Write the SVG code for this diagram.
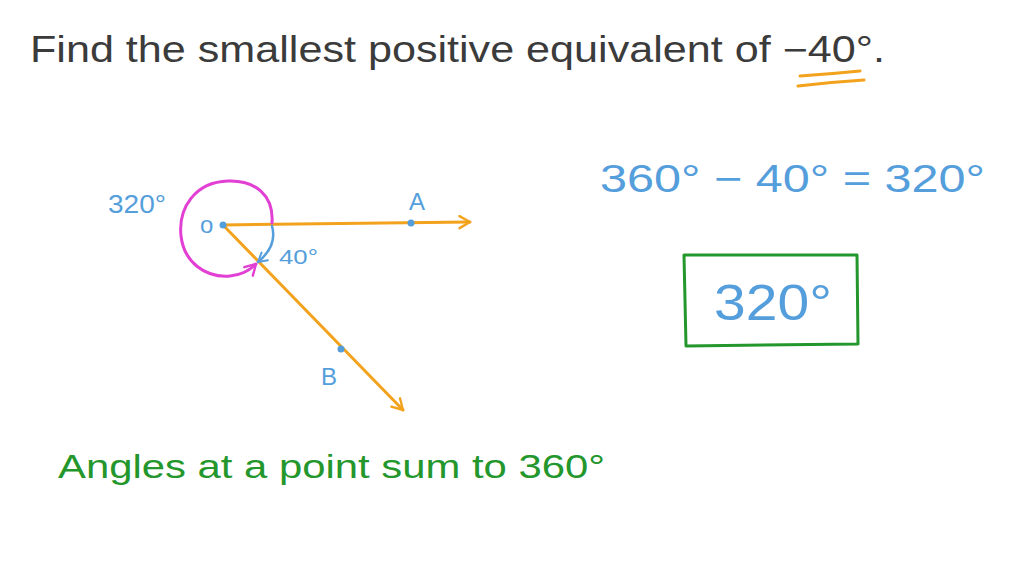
<svg xmlns="http://www.w3.org/2000/svg" width="1024" height="576" viewBox="0 0 1024 576">
<defs>
<style>
.t{font-family:"Liberation Sans","DejaVu Sans",sans-serif;}
.dark{fill:#3b3b3b;}
.blue{fill:#559edc;}
.green{fill:#23962c;}
.ray{stroke:#f2a21c;stroke-width:3;fill:none;stroke-linecap:round;}
.dot{fill:#559edc;}
</style>
<marker id="arrO" viewBox="0 0 10 10" refX="8" refY="5" markerWidth="5" markerHeight="5" orient="auto" markerUnits="strokeWidth">
<path d="M1,1 L8,5 L1,9" fill="none" stroke="#f2a21c" stroke-width="1.6" stroke-linecap="round" stroke-linejoin="round"/>
</marker>
<marker id="arrM" viewBox="0 0 10 10" refX="8" refY="5" markerWidth="5" markerHeight="5" orient="auto" markerUnits="strokeWidth">
<path d="M1,1 L8,5 L1,9" fill="none" stroke="#e23fd4" stroke-width="1.6" stroke-linecap="round" stroke-linejoin="round"/>
</marker>
<marker id="arrB" viewBox="0 0 10 10" refX="8" refY="5" markerWidth="5" markerHeight="5" orient="auto" markerUnits="strokeWidth">
<path d="M1,1 L8,5 L1,9" fill="none" stroke="#559edc" stroke-width="1.6" stroke-linecap="round" stroke-linejoin="round"/>
</marker>
</defs>
<rect width="1024" height="576" fill="#ffffff"/>

<g id="title">
<text class="t dark" x="30" y="62" font-size="36" textLength="855" lengthAdjust="spacingAndGlyphs">Find the smallest positive equivalent of −40°.</text>
<path d="M800,76 Q830,74 860,71 M798,86 Q832,82 864,80" stroke="#f2a21c" stroke-width="3" fill="none" stroke-linecap="round"/>
</g>

<g id="connectors">
<line class="ray" x1="223" y1="225" x2="470" y2="222" marker-end="url(#arrO)"/>
<line class="ray" x1="223" y1="225" x2="403" y2="410" marker-end="url(#arrO)"/>
<path d="M272,223 C274,195 255,180 228,181 C195,182 178,208 181,236 C184,262 205,278 230,276 C242,275 250,270 256,264" stroke="#e23fd4" stroke-width="3" fill="none" stroke-linecap="round" marker-end="url(#arrM)"/>
<path d="M272,226 C276,240 270,252 258,262" stroke="#559edc" stroke-width="2.5" fill="none" stroke-linecap="round" marker-end="url(#arrB)"/>
</g>

<g id="node-O">
<circle class="dot" cx="223" cy="225" r="3.5"/>
<text class="t blue" x="200" y="233" font-size="24">o</text>
</g>
<g id="node-A">
<circle class="dot" cx="411" cy="223" r="3.5"/>
<text class="t blue" x="409" y="210" font-size="24">A</text>
</g>
<g id="node-B">
<circle class="dot" cx="341" cy="349" r="3.5"/>
<text class="t blue" x="321" y="385" font-size="24">B</text>
</g>

<g id="label-320">
<text class="t blue" x="108" y="213" font-size="26" textLength="58" lengthAdjust="spacingAndGlyphs">320°</text>
</g>
<g id="label-40">
<text class="t blue" x="279" y="264" font-size="21" textLength="39" lengthAdjust="spacingAndGlyphs">40°</text>
</g>

<g id="equation">
<text class="t blue" x="600" y="192" font-size="38" textLength="385" lengthAdjust="spacingAndGlyphs">360° − 40° = 320°</text>
</g>

<g id="answer">
<path d="M684,255 L857,255 L858,344 L686,346 Z" fill="none" stroke="#23962c" stroke-width="3" stroke-linejoin="round"/>
<text class="t blue" x="714" y="320" font-size="50" textLength="118" lengthAdjust="spacingAndGlyphs">320°</text>
</g>

<g id="note">
<text class="t green" x="58" y="478" font-size="34" textLength="547" lengthAdjust="spacingAndGlyphs">Angles at a point sum to 360°</text>
</g>
</svg>
